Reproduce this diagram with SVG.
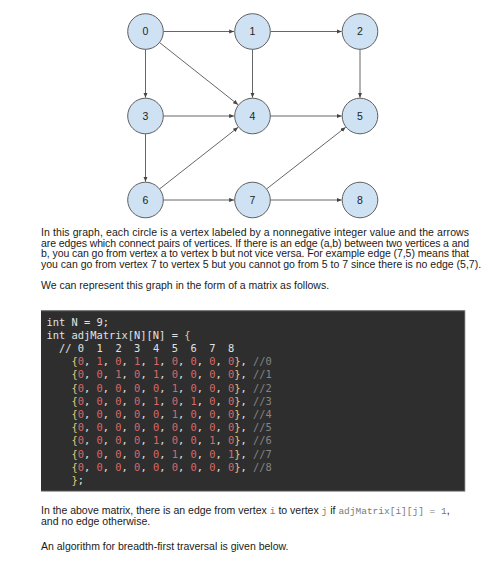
<svg xmlns="http://www.w3.org/2000/svg" width="504" height="564" viewBox="0 0 504 564">
<style>
.node circle{fill:#cfe2f3;stroke:#5f5f5f;stroke-width:1}
.node text{font-family:"Liberation Sans",Arial,sans-serif;font-size:10.5px;fill:#222;text-anchor:middle}
.edge{stroke:#555;stroke-width:0.9;fill:none;marker-end:url(#ah)}
.p{font-family:"Liberation Sans",Arial,sans-serif;font-size:10.5px;fill:#1a1a1a}
.m{font-family:"Liberation Mono","Courier New",monospace;font-size:9.5px;fill:#7a7a7a}
.code text{font-family:"DejaVu Sans Mono",monospace;font-size:10.4px;fill:#e2e2e2}
.kw{fill:#dde5ef}.num{fill:#d9686b}.br{fill:#e6c97a}.cm{fill:#858585}
</style>
<defs>
<marker id="ah" viewBox="0 0 6 5" refX="6" refY="2.5" markerWidth="5" markerHeight="4.2" markerUnits="userSpaceOnUse" orient="auto">
<path d="M0,0 L6,2.5 L0,5 z" fill="#444"/>
</marker>
</defs>
<rect width="504" height="564" fill="#fff"/>
<g id="connectors">
<line class="edge" x1="163.3" y1="31.5" x2="234.2" y2="31.5"/>
<line class="edge" x1="270.3" y1="31.5" x2="341.7" y2="31.5"/>
<line class="edge" x1="145.5" y1="49.3" x2="145.5" y2="97.7"/>
<line class="edge" x1="252.5" y1="49.3" x2="252.5" y2="97.7"/>
<line class="edge" x1="360" y1="49.3" x2="360" y2="97.7"/>
<line class="edge" x1="159.5" y1="42.5" x2="238.1" y2="104.7"/>
<line class="edge" x1="163.3" y1="116" x2="234.2" y2="116"/>
<line class="edge" x1="270.3" y1="116" x2="341.7" y2="116"/>
<line class="edge" x1="145.5" y1="133.8" x2="145.5" y2="181.7"/>
<line class="edge" x1="159.5" y1="189" x2="238.1" y2="127.3"/>
<line class="edge" x1="163.3" y1="200" x2="234.2" y2="200"/>
<line class="edge" x1="266.5" y1="189" x2="345.6" y2="127.3"/>
<line class="edge" x1="270.3" y1="200" x2="341.7" y2="200"/>
</g>
<g id="n0" class="node"><circle cx="145.5" cy="31.5" r="17.8"/><text x="145.5" y="35.3">0</text></g>
<g id="n1" class="node"><circle cx="252.5" cy="31.5" r="17.8"/><text x="252.5" y="35.3">1</text></g>
<g id="n2" class="node"><circle cx="360" cy="31.5" r="17.8"/><text x="360" y="35.3">2</text></g>
<g id="n3" class="node"><circle cx="145.5" cy="116" r="17.8"/><text x="145.5" y="119.8">3</text></g>
<g id="n4" class="node"><circle cx="252.5" cy="116" r="17.8"/><text x="252.5" y="119.8">4</text></g>
<g id="n5" class="node"><circle cx="360" cy="116" r="17.8"/><text x="360" y="119.8">5</text></g>
<g id="n6" class="node"><circle cx="145.5" cy="200" r="17.8"/><text x="145.5" y="203.8">6</text></g>
<g id="n7" class="node"><circle cx="252.5" cy="200" r="17.8"/><text x="252.5" y="203.8">7</text></g>
<g id="n8" class="node"><circle cx="360" cy="200" r="17.8"/><text x="360" y="203.8">8</text></g>
<g id="paragraph">
<text class="p" x="41" y="236" textLength="428" lengthAdjust="spacing">In this graph, each circle is a vertex labeled by a nonnegative integer value and the arrows</text>
<text class="p" x="41" y="246.5" textLength="428" lengthAdjust="spacing">are edges which connect pairs of vertices. If there is an edge (a,b) between two vertices a and</text>
<text class="p" x="41" y="257" textLength="428" lengthAdjust="spacing">b, you can go from vertex a to vertex b but not vice versa. For example edge (7,5) means that</text>
<text class="p" x="41" y="267.5">you can go from vertex 7 to vertex 5 but you cannot go from 5 to 7 since there is no edge (5,7).</text>
<text class="p" x="41" y="289">We can represent this graph in the form of a matrix as follows.</text>
</g>
<g id="codeblock" class="code">
<rect x="41" y="310.5" width="424" height="181" fill="#2e2e2e"/>
<line x1="41" y1="310.8" x2="465" y2="310.8" stroke="#6a6a6a" stroke-width="0.8"/>
<line x1="41" y1="491.3" x2="465" y2="491.3" stroke="#b0b0b0" stroke-width="0.8"/>
<line x1="465" y1="310.5" x2="465" y2="491.5" stroke="#a0a0a0" stroke-width="0.8"/>
<text x="46.5" y="325.5"><tspan class="kw">int</tspan> N = 9;</text>
<text x="46.5" y="338.7"><tspan class="kw">int</tspan> adjMatrix[N][N] = <tspan class="br">{</tspan></text>
<text y="351.9" class="cm"><tspan x="59">//</tspan><tspan x="77.8">0</tspan><tspan x="96.6">1</tspan><tspan x="115.4">2</tspan><tspan x="134.1">3</tspan><tspan x="152.9">4</tspan><tspan x="171.7">5</tspan><tspan x="190.5">6</tspan><tspan x="209.2">7</tspan><tspan x="228">8</tspan></text>
<text x="71.5" y="365.1"><tspan class="br">{</tspan><tspan class="num">0</tspan>, <tspan class="num">1</tspan>, <tspan class="num">0</tspan>, <tspan class="num">1</tspan>, <tspan class="num">1</tspan>, <tspan class="num">0</tspan>, <tspan class="num">0</tspan>, <tspan class="num">0</tspan>, <tspan class="num">0</tspan><tspan class="br">}</tspan>, <tspan class="cm">//0</tspan></text>
<text x="71.5" y="378.3"><tspan class="br">{</tspan><tspan class="num">0</tspan>, <tspan class="num">0</tspan>, <tspan class="num">1</tspan>, <tspan class="num">0</tspan>, <tspan class="num">1</tspan>, <tspan class="num">0</tspan>, <tspan class="num">0</tspan>, <tspan class="num">0</tspan>, <tspan class="num">0</tspan><tspan class="br">}</tspan>, <tspan class="cm">//1</tspan></text>
<text x="71.5" y="391.5"><tspan class="br">{</tspan><tspan class="num">0</tspan>, <tspan class="num">0</tspan>, <tspan class="num">0</tspan>, <tspan class="num">0</tspan>, <tspan class="num">0</tspan>, <tspan class="num">1</tspan>, <tspan class="num">0</tspan>, <tspan class="num">0</tspan>, <tspan class="num">0</tspan><tspan class="br">}</tspan>, <tspan class="cm">//2</tspan></text>
<text x="71.5" y="404.7"><tspan class="br">{</tspan><tspan class="num">0</tspan>, <tspan class="num">0</tspan>, <tspan class="num">0</tspan>, <tspan class="num">0</tspan>, <tspan class="num">1</tspan>, <tspan class="num">0</tspan>, <tspan class="num">1</tspan>, <tspan class="num">0</tspan>, <tspan class="num">0</tspan><tspan class="br">}</tspan>, <tspan class="cm">//3</tspan></text>
<text x="71.5" y="417.9"><tspan class="br">{</tspan><tspan class="num">0</tspan>, <tspan class="num">0</tspan>, <tspan class="num">0</tspan>, <tspan class="num">0</tspan>, <tspan class="num">0</tspan>, <tspan class="num">1</tspan>, <tspan class="num">0</tspan>, <tspan class="num">0</tspan>, <tspan class="num">0</tspan><tspan class="br">}</tspan>, <tspan class="cm">//4</tspan></text>
<text x="71.5" y="431.1"><tspan class="br">{</tspan><tspan class="num">0</tspan>, <tspan class="num">0</tspan>, <tspan class="num">0</tspan>, <tspan class="num">0</tspan>, <tspan class="num">0</tspan>, <tspan class="num">0</tspan>, <tspan class="num">0</tspan>, <tspan class="num">0</tspan>, <tspan class="num">0</tspan><tspan class="br">}</tspan>, <tspan class="cm">//5</tspan></text>
<text x="71.5" y="444.3"><tspan class="br">{</tspan><tspan class="num">0</tspan>, <tspan class="num">0</tspan>, <tspan class="num">0</tspan>, <tspan class="num">0</tspan>, <tspan class="num">1</tspan>, <tspan class="num">0</tspan>, <tspan class="num">0</tspan>, <tspan class="num">1</tspan>, <tspan class="num">0</tspan><tspan class="br">}</tspan>, <tspan class="cm">//6</tspan></text>
<text x="71.5" y="457.5"><tspan class="br">{</tspan><tspan class="num">0</tspan>, <tspan class="num">0</tspan>, <tspan class="num">0</tspan>, <tspan class="num">0</tspan>, <tspan class="num">0</tspan>, <tspan class="num">1</tspan>, <tspan class="num">0</tspan>, <tspan class="num">0</tspan>, <tspan class="num">1</tspan><tspan class="br">}</tspan>, <tspan class="cm">//7</tspan></text>
<text x="71.5" y="470.7"><tspan class="br">{</tspan><tspan class="num">0</tspan>, <tspan class="num">0</tspan>, <tspan class="num">0</tspan>, <tspan class="num">0</tspan>, <tspan class="num">0</tspan>, <tspan class="num">0</tspan>, <tspan class="num">0</tspan>, <tspan class="num">0</tspan>, <tspan class="num">0</tspan><tspan class="br">}</tspan>, <tspan class="cm">//8</tspan></text>
<text x="71.5" y="483.9"><tspan class="br">}</tspan>;</text>
</g>
<g id="footer">
<text class="p" x="41" y="513.5">In the above matrix, there is an edge from vertex <tspan class="m">i</tspan> to vertex <tspan class="m">j</tspan> if <tspan class="m">adjMatrix[i][j] = 1</tspan>,</text>
<text class="p" x="41" y="525">and no edge otherwise.</text>
<text class="p" x="41" y="549.5">An algorithm for breadth-first traversal is given below.</text>
</g>
</svg>
